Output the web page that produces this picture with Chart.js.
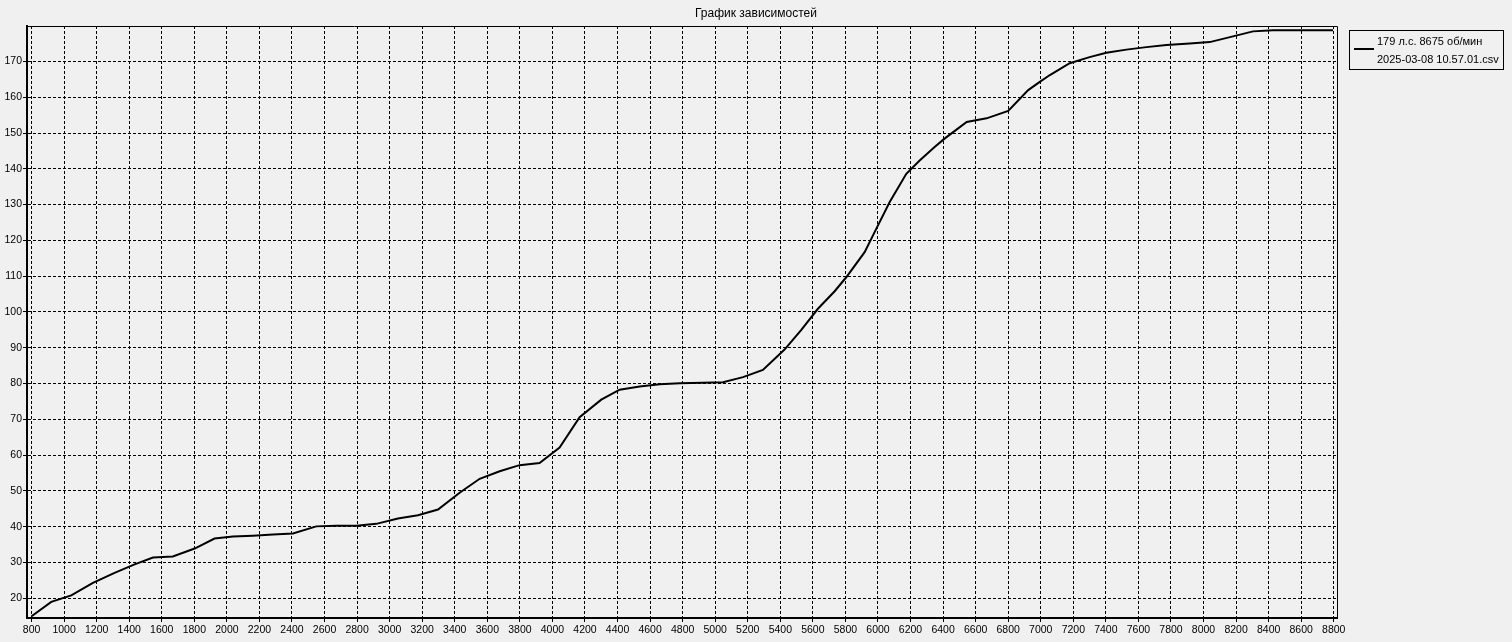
<!DOCTYPE html>
<html>
<head>
<meta charset="utf-8">
<script src="https://cdn.jsdelivr.net/npm/chart.js@4/dist/chart.umd.min.js"></script>
<style>
  html, body { margin: 0; padding: 0; background: #f0f0f0; }
  #wrap { width: 1512px; height: 642px; }
</style>
</head>
<body>
<div id="wrap"><canvas id="chart"></canvas></div>
<script>
// обороты, об/мин
const rpm = [800, 921, 1044, 1177, 1310, 1433, 1546, 1668, 1802, 1924, 2037, 2160, 2283, 2406,
  2549, 2672, 2795, 2918, 3051, 3174, 3297, 3430, 3553, 3676, 3798, 3921, 4044, 4167, 4300,
  4413, 4536, 4659, 4782, 4986, 5048, 5171, 5293, 5426, 5529, 5631, 5734, 5805, 5918, 5990,
  6072, 6174, 6256, 6348, 6411, 6545, 6667, 6800, 6923, 6994, 7056, 7178, 7300, 7403, 7526,
  7649, 7772, 7915, 8038, 8181, 8304, 8427, 8796];
// мощность, л.с.
const power = [15.0, 19.0, 20.8, 24.3, 27.1, 29.5, 31.4, 31.7, 33.9, 36.7, 37.3, 37.5, 37.8, 38.1,
  40.1, 40.3, 40.3, 40.8, 42.3, 43.2, 44.8, 49.5, 53.4, 55.5, 57.2, 57.8, 62.1, 70.6, 75.5,
  78.3, 79.2, 79.8, 80.1, 80.3, 80.4, 81.8, 83.8, 89.5, 95.0, 100.9, 105.8, 109.7, 116.7, 123.3,
  130.7, 138.6, 142.3, 146.1, 148.5, 153.1, 154.1, 156.2, 162.0, 164.3, 166.2, 169.5, 171.2, 172.4, 173.3,
  174.0, 174.6, 175.0, 175.4, 177.0, 178.4, 178.7, 178.7];

const xTicks = [800, 1000, 1200, 1400, 1600, 1800, 2000, 2200, 2400, 2600, 2800, 3000, 3200, 3400,
  3600, 3800, 4000, 4200, 4400, 4600, 4800, 5000, 5200, 5400, 5600, 5800, 6000, 6200, 6400,
  6600, 6800, 7000, 7200, 7400, 7600, 7800, 8000, 8200, 8400, 8600, 8800];
const yTicks = [20, 30, 40, 50, 60, 70, 80, 90, 100, 110, 120, 130, 140, 150, 160, 170];

const legendLines = ['179 л.с. 8675 об/мин', '2025-03-08 10.57.01.csv'];
const titleText = 'График зависимостей';

const FONT = 'Liberation Sans, Arial, sans-serif';
Chart.defaults.font.family = FONT;
Chart.defaults.font.size = 10.5;
Chart.defaults.color = '#000';

// заголовок, рамка графика и легенда
const framePlugin = {
  id: 'frame',
  beforeDraw(chart) {
    const ctx = chart.ctx;
    ctx.save();
    ctx.fillStyle = '#f0f0f0';
    ctx.fillRect(0, 0, chart.width, chart.height);
    ctx.restore();
  },
  afterDraw(chart) {
    const ctx = chart.ctx;
    const a = chart.chartArea;
    ctx.save();
    ctx.strokeStyle = '#000';
    ctx.lineWidth = 1;
    ctx.beginPath();
    ctx.moveTo(a.left, a.top + 0.5);
    ctx.lineTo(a.right + 0.5, a.top + 0.5);
    ctx.lineTo(a.right + 0.5, a.bottom);
    ctx.stroke();

    ctx.fillStyle = '#000';
    ctx.font = '12px ' + FONT;
    ctx.textBaseline = 'middle';
    ctx.textAlign = 'center';
    ctx.fillText(titleText, chart.width / 2, 14);

    // легенда
    const bx = 1349.5, by = 30.5, bw = 154, bh = 39;
    ctx.strokeRect(bx, by, bw, bh);
    ctx.lineWidth = 2;
    ctx.beginPath();
    ctx.moveTo(1354, 49);
    ctx.lineTo(1374, 49);
    ctx.stroke();
    ctx.font = '11px ' + FONT;
    ctx.textAlign = 'left';
    ctx.fillText(legendLines[0], 1377, 42);
    ctx.fillText(legendLines[1], 1377, 60);
    ctx.restore();
  }
};

new Chart(document.getElementById('chart'), {
  type: 'line',
  data: {
    datasets: [{
      label: legendLines.join(' '),
      data: rpm.map((r, i) => ({ x: r, y: power[i] })),
      borderColor: '#000',
      borderWidth: 2,
      pointRadius: 0,
      tension: 0,
      fill: false
    }]
  },
  options: {
    responsive: true,
    maintainAspectRatio: false,
    animation: false,
    layout: { padding: { top: 26, right: 175, bottom: 0, left: 0 } },
    plugins: {
      legend: { display: false },
      tooltip: { enabled: false },
      title: { display: false }
    },
    scales: {
      x: {
        type: 'linear',
        min: 772,
        max: 8820,
        afterBuildTicks: s => { s.ticks = xTicks.map(v => ({ value: v })); },
        afterFit: s => { s.height = 24; },
        ticks: { autoSkip: false, maxRotation: 0, padding: 2, color: '#000', callback: v => String(v) },
        grid: { color: '#000', lineWidth: 1, tickLength: 4, tickColor: '#000' },
        border: { color: '#000', width: 2, dash: [3, 2] }
      },
      y: {
        type: 'linear',
        min: 14.5,
        max: 179.9,
        afterBuildTicks: s => { s.ticks = yTicks.map(v => ({ value: v })); },
        afterFit: s => { s.width = 27; },
        ticks: { autoSkip: false, padding: 1, color: '#000', callback: v => String(v) },
        grid: { color: '#000', lineWidth: 1, tickLength: 4, tickColor: '#000' },
        border: { color: '#000', width: 2, dash: [3, 2] }
      }
    }
  },
  plugins: [framePlugin]
});
</script>
</body>
</html>
